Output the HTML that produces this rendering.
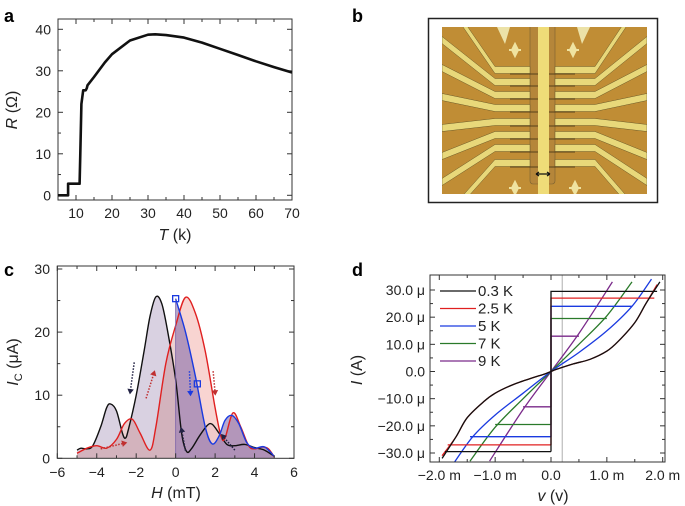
<!DOCTYPE html>
<html><head><meta charset="utf-8"><style>
html,body{margin:0;padding:0;background:#fff;}
svg{display:block;font-family:"Liberation Sans",sans-serif;}
</style></head><body>
<svg id="fig" width="685" height="506" viewBox="0 0 685 506">
<g id="pa"></g>
<g id="pb"></g>
<g id="pc"></g>
<g id="pd"></g>
</svg>
<script>
// ---- Panel a data ----
const aT = [5,7.8,7.8,11,11.2,11.5,12,12.7,13,13.2,15,18,20,25,30,32,35,40,45,50,55,60,65,70];
const aR = [0,0,2.8,2.8,10,22,25.3,25.3,25.8,26.5,28.5,32,34,37.3,38.7,38.8,38.6,38,36.8,35.3,33.8,32.3,30.9,29.6];
const aXTicks = [10,20,30,40,50,60,70];
const aYTicks = [0,10,20,30,40];
// ---- Panel c data ----
const cBlackH = [-5,-4.8,-4.5,-4.2,-3.8,-3.5,-3.3,-3.0,-2.7,-2.55,-2.4,-2.0,-1.6,-1.3,-1.0,-0.7,-0.4,0,0.3,0.55,0.8,1.2,1.6,1.85,2.2,2.6,3.0,3.5,4.0,4.5,5];
const cBlackI = [1.3,1.6,1.5,2.0,5,8,8.6,7.5,4,3.2,4.5,10,17,22.5,25.6,24.5,20,12.5,4,1.1,1.5,3.5,5.2,5.4,4,2.2,2.0,2.2,1.7,1.3,0.3];
const cRedH = [-5,-4.5,-4,-3.5,-3,-2.6,-2.2,-1.8,-1.3,-1.0,-0.5,0,0.5,1.0,1.5,2.0,2.3,2.5,2.9,3.3,3.7,4.0,4.4,4.7,5.0];
const cRedI = [0.8,1.6,2.0,1.6,3,5.5,6.2,4,1.3,5,15,21,25.5,23,17,8,3.5,3.2,7.2,5,2,1.5,1.8,1.5,0.2];
const cBlueH = [0,0.5,1.0,1.5,1.85,2.2,2.5,2.85,3.2,3.6,4.0,4.5,5.0];
const cBlueI = [25.3,20,13,5,2.3,3.5,6,6.8,5.5,2.5,1.6,1.8,0.3];
const cXTicks = [-6,-4,-2,0,2,4,6];
const cYTicks = [0,10,20,30];
// ---- Panel d data (V in mV, I in uA) ----
const dTemps = ["0.3 K","2.5 K","5 K","7 K","9 K"];
const dColors = ["#111","#e02020","#1a3ae0","#2a7a2a","#7a2a8a"];
const dIc = [29.5,27,24,19.5,13];
const dVc = [1.9,1.85,1.45,1.0,0.5];
const dCurveV = [
 [-1.95,-1.7,-1.5,-1.2,-1.0,-0.7,-0.4,-0.1,0,0.1,0.4,0.7,1.0,1.2,1.5,1.7,1.95],
 [-1.95,-1.7,-1.5,-1.2,-1.0,-0.7,-0.4,-0.1,0,0.1,0.4,0.7,1.0,1.2,1.5,1.7,1.9],
 [-1.75,-1.4,-1.0,-0.5,0,0.5,1.0,1.45,1.8],
 [-1.45,-1.0,-0.5,0,0.5,1.0,1.45],
 [-1.1,-0.5,0,0.5,1.1]];
const dCurveI = [
 [-32,-24,-17,-11,-8,-5,-2.8,-0.8,0,0.8,2.8,4.5,7.5,11,18,25,33],
 [-31,-24,-17,-11,-8,-5,-2.8,-0.8,0,0.8,2.8,4.5,7.5,11,18,25,32],
 [-34,-24,-16,-8,0,7,15,24,34],
 [-33,-20.5,-10,0,10,20.5,33],
 [-33,-14,0,14,33]];
const dXTicks = [-2,-1,0,1,2];
const dXLabels = ["\u22122.0 m","\u22121.0 m","0.0","1.0 m","2.0 m"];
const dYTicks = [30,20,10,0,-10,-20,-30];
const dYLabels = ["30.0 \u03bc","20.0 \u03bc","10.0 \u03bc","0.0","\u221210.0 \u03bc","\u221220.0 \u03bc","\u221230.0 \u03bc"];

const NS="http://www.w3.org/2000/svg";
function mk(parent,tag,attrs){const e=document.createElementNS(NS,tag);for(const k in attrs)e.setAttribute(k,attrs[k]);parent.appendChild(e);return e;}
function lin(d0,d1,r0,r1){return v=>r0+(v-d0)/(d1-d0)*(r1-r0);}
function smooth(pts){let d="M"+pts[0][0]+","+pts[0][1];for(let i=0;i<pts.length-1;i++){const p0=pts[i-1]||pts[i],p1=pts[i],p2=pts[i+1],p3=pts[i+2]||p2;const c1=[p1[0]+(p2[0]-p0[0])/6,p1[1]+(p2[1]-p0[1])/6],c2=[p2[0]-(p3[0]-p1[0])/6,p2[1]-(p3[1]-p1[1])/6];d+=" C"+c1+" "+c2+" "+p2;}return d;}
function txt(parent,x,y,s,opts){const t=mk(parent,"text",Object.assign({x:x,y:y,"font-size":14,fill:"#222"},opts||{}));t.textContent=s;return t;}

// ================= Panel a =================
(function(){
const g=document.getElementById('pa');
const X=lin(5,70,58,292), Y=lin(0,40,195.3,29.3);
const L=txt(g,4,22,"a",{"font-size":18,"font-weight":"bold",fill:"#000"});


const box=mk(g,"rect",{x:58,y:19,width:234,height:181,fill:"none",stroke:"#333","stroke-width":1});


for(let t=5;t<=70;t+=5){const x=X(t),len=(t%10===0)?5:3;mk(g,"line",{x1:x,y1:200,x2:x,y2:200-len,stroke:"#333"});mk(g,"line",{x1:x,y1:19,x2:x,y2:19+len,stroke:"#333"});}
for(let r=0;r<=40;r+=5){const y=Y(r),len=(r%10===0)?5:3;mk(g,"line",{x1:58,y1:y,x2:58+len,y2:y,stroke:"#333"});mk(g,"line",{x1:292,y1:y,x2:292-len,y2:y,stroke:"#333"});}
aXTicks.forEach(t=>{const e=txt(g,X(t),218,String(t),{"text-anchor":"middle"});});
aYTicks.forEach(t=>{const e=txt(g,51,Y(t)+5,String(t),{"text-anchor":"end"});});
const xt=txt(g,175,240,"",{"text-anchor":"middle","font-size":16});xt.innerHTML='<tspan font-style="italic">T</tspan> (k)';


const yt=txt(g,0,0,"",{"text-anchor":"middle","font-size":16,transform:"translate(17,110) rotate(-90)"});yt.innerHTML='<tspan font-style="italic">R</tspan> (\u03a9)';


let d="";aT.forEach((t,i)=>{d+=(i?"L":"M")+X(t).toFixed(1)+","+Y(aR[i]).toFixed(1);});
const p=mk(g,"path",{d:d,fill:"none",stroke:"#111","stroke-width":2.6,"stroke-linejoin":"round"});


})();

// ================= Panel b (micrograph) =================
(function(){
const g=document.getElementById('pb');
const L=txt(g,352,22,"b",{"font-size":18,"font-weight":"bold",fill:"#000"});


const fr=mk(g,"rect",{x:428.5,y:18.5,width:229,height:184,fill:"#fff",stroke:"#222","stroke-width":1.5});


const bg=mk(g,"rect",{x:442,y:27,width:205,height:167,fill:"#c08d35"});


mk(g,"clipPath",{id:"bclip"});
mk(document.getElementById('bclip'),"rect",{x:442,y:27,width:205,height:167});
const c=mk(g,"g",{"clip-path":"url(#bclip)"});
mk(c,"rect",{x:530,y:20,width:25,height:164,rx:3,fill:"#b5863a",stroke:"#7a6030","stroke-width":0.6});
const rows=[70,82,95,108,122,135,148,163];
const lEnt=[[462,22],[442,40],[442,68],[442,97],[442,128],[442,156],[442,182],[462,200]];
const rEnt=[[627,22],[647,40],[647,68],[647,97],[647,128],[647,156],[647,182],[627,200]];
rows.forEach((y,i)=>{
 const w=3.5,le=lEnt[i],re=rEnt[i];
 mk(c,"path",{d:`M${le[0]},${le[1]-w} L495,${y-w} L530,${y-w} L530,${y+w} L495,${y+w} L${le[0]},${le[1]+w}Z`,fill:"#e8d87a",stroke:"#6a5a28","stroke-width":0.5});
 mk(c,"path",{d:`M${re[0]},${re[1]-w} L595,${y-w} L555,${y-w} L555,${y+w} L595,${y+w} L${re[0]},${re[1]+w}Z`,fill:"#e8d87a",stroke:"#6a5a28","stroke-width":0.5});
 mk(c,"line",{x1:510,y1:y+4,x2:575,y2:y+4,stroke:"#3a2a10","stroke-width":0.8});
});
mk(c,"rect",{x:538,y:27,width:11,height:167,fill:"#efdc78"});
[[515,50],[573,50],[515,188],[575,188]].forEach(p=>mk(c,"path",{d:`M${p[0]},${p[1]-6} L${p[0]+3},${p[1]} L${p[0]},${p[1]+6} L${p[0]-3},${p[1]}Z M${p[0]-6},${p[1]} L${p[0]+6},${p[1]}`,fill:"#efe3a0",stroke:"#efe3a0","stroke-width":2}));
mk(c,"path",{d:"M497,27 L510,27 L505,44Z M577,27 L590,27 L582,44Z",fill:"#ece2a8"});
mk(c,"path",{d:"M536,174 L550,174 M536,174 l3,-2 M536,174 l3,2 M550,174 l-3,-2 M550,174 l-3,2",stroke:"#111","stroke-width":1.2,fill:"none"});
})();

// ================= Panel c =================
(function(){
const g=document.getElementById('pc');
const X=lin(-6,6,57.3,294), Y=lin(0,30,458.3,269);
const L=txt(g,4,276,"c",{"font-size":18,"font-weight":"bold",fill:"#000"});


function pts(H,I){return H.map((h,i)=>[+X(h).toFixed(1),+Y(I[i]).toFixed(1)]);}
const y0=Y(0);
const bp=pts(cBlackH,cBlackI), rp=pts(cRedH,cRedI), blp=pts(cBlueH,cBlueI);
const bf=mk(g,"path",{d:smooth(bp)+` L${X(5)},${y0} L${X(-5)},${y0}Z`,fill:"#cfc6da","fill-opacity":0.8});


mk(g,"clipPath",{id:"cleft"});mk(document.getElementById('cleft'),"rect",{x:0,y:0,width:X(0),height:506});
mk(g,"clipPath",{id:"cright"});mk(document.getElementById('cright'),"rect",{x:X(0),y:0,width:300,height:506});
const rf=mk(g,"path",{d:smooth(rp)+` L${X(5)},${y0} L${X(-5)},${y0}Z`,fill:"#c97a7a","fill-opacity":0.35,"clip-path":"url(#cleft)"});


const rf2=mk(g,"path",{d:smooth(rp)+` L${X(5)},${y0} L${X(-5)},${y0}Z`,fill:"#f6c6c2","fill-opacity":0.75,"clip-path":"url(#cright)"});


const blf=mk(g,"path",{d:smooth(blp)+` L${X(5)},${y0} L${X(0)},${y0}Z`,fill:"#7a62a8","fill-opacity":0.55});


[[bp,"#111","black-sweep"],[rp,"#e02020","red-sweep"],[blp,"#1a3ae0","blue-sweep"]].forEach(a=>{
 const p=mk(g,"path",{d:smooth(a[0]),fill:"none",stroke:a[1],"stroke-width":1.4});
 
 
});
mk(g,"line",{x1:X(0),y1:Y(25.3),x2:X(0),y2:y0,stroke:"#7a62a8","stroke-width":0.8});
[[0,25.3],[1.1,11.8]].forEach(m=>{const r=mk(g,"rect",{x:X(m[0])-3,y:Y(m[1])-3,width:6,height:6,fill:"none",stroke:"#1a3ae0","stroke-width":1.3});});
function arr(h1,i1,h2,i2,col){const x1=X(h1),y1=Y(i1),x2=X(h2),y2=Y(i2);mk(g,"line",{x1:x1,y1:y1,x2:x2,y2:y2,stroke:col,"stroke-width":1.5,"stroke-dasharray":"1.5,1.5"});const a=Math.atan2(y2-y1,x2-x1);mk(g,"path",{d:`M${x2+3*Math.cos(a)},${y2+3*Math.sin(a)} L${x2+4*Math.cos(a+2.2)},${y2+4*Math.sin(a+2.2)} L${x2+4*Math.cos(a-2.2)},${y2+4*Math.sin(a-2.2)}Z`,fill:col});}
arr(-2.1,15.2,-2.3,10.6,"#224");arr(-1.5,9.5,-1.1,13.5,"#c03030");arr(0.7,13.8,0.75,10.3,"#1a3ae0");arr(1.9,13.8,2.0,10.4,"#c03030");
arr(0.5,1.2,0.3,4.5,"#224");arr(3.0,1.3,2.4,3.5,"#224");arr(-3.8,1.5,-2.6,2.4,"#c03030");
const box=mk(g,"rect",{x:57.3,y:266,width:236.7,height:192.3,fill:"none",stroke:"#333"});


for(let h=-6;h<=6;h+=1){const x=X(h),len=(h%2===0)?5:3;mk(g,"line",{x1:x,y1:458.3,x2:x,y2:458.3-len,stroke:"#333"});mk(g,"line",{x1:x,y1:266,x2:x,y2:266+len,stroke:"#333"});}
for(let v=0;v<=30;v+=5){const y=Y(v),len=(v%10===0)?5:3;mk(g,"line",{x1:57.3,y1:y,x2:57.3+len,y2:y,stroke:"#333"});mk(g,"line",{x1:294,y1:y,x2:294-len,y2:y,stroke:"#333"});}
cXTicks.forEach(t=>{const e=txt(g,X(t),477,(t<0?"\u2212":"")+Math.abs(t),{"text-anchor":"middle"});});
cYTicks.forEach(t=>{const e=txt(g,50,Y(t)+5,String(t),{"text-anchor":"end"});});
const xt=txt(g,176,498,"",{"text-anchor":"middle","font-size":16});xt.innerHTML='<tspan font-style="italic">H</tspan> (mT)';


const yt=txt(g,0,0,"",{"text-anchor":"middle","font-size":16,transform:"translate(18,362) rotate(-90)"});yt.innerHTML='<tspan font-style="italic">I</tspan><tspan font-size="11" dy="4">C</tspan><tspan dy="-4"> (\u03bcA)</tspan>';


})();

// ================= Panel d =================
(function(){
const g=document.getElementById('pd');
const X=lin(-2,2,439.3,662.7), Y=lin(-30,30,453,290);
const L=txt(g,352,276,"d",{"font-size":18,"font-weight":"bold",fill:"#000"});


mk(g,"clipPath",{id:"dclip"});mk(document.getElementById('dclip'),"rect",{x:430,y:275,width:235,height:187});
const c=mk(g,"g",{"clip-path":"url(#dclip)"});
mk(c,"line",{x1:X(0.2),y1:275,x2:X(0.2),y2:462,stroke:"#999","stroke-width":0.8});
function pts(V,I){return V.map((v,i)=>[+X(v).toFixed(1),+Y(I[i]).toFixed(1)]);}
for(let k=dTemps.length-1;k>=0;k--){
 const col=dColors[k];
 const sw=mk(c,"path",{d:`M${X(0)},${Y(-dIc[k])} L${X(0)},${Y(dIc[k])} L${X(dVc[k])},${Y(dIc[k])} M${X(0)},${Y(-dIc[k])} L${X(-dVc[k])},${Y(-dIc[k])}`,fill:"none",stroke:col,"stroke-width":1.3});
 
 
 const p=pts(dCurveV[k],dCurveI[k]);
 const cv=mk(c,"path",{d:smooth(p),fill:"none",stroke:col,"stroke-width":1.3});
 
 
}
const box=mk(g,"rect",{x:430,y:275,width:235,height:187,fill:"none",stroke:"#333"});


for(let v=-2;v<=2.001;v+=0.5){const x=X(v),len=(Math.abs(v%1)<0.01)?5:3;mk(g,"line",{x1:x,y1:462,x2:x,y2:462-len,stroke:"#333"});mk(g,"line",{x1:x,y1:275,x2:x,y2:275+len,stroke:"#333"});}
for(let v=-30;v<=30;v+=5){const y=Y(v),len=(v%10===0)?5:3;mk(g,"line",{x1:430,y1:y,x2:430+len,y2:y,stroke:"#333"});mk(g,"line",{x1:665,y1:y,x2:665-len,y2:y,stroke:"#333"});}
dXTicks.forEach((t,i)=>{const e=txt(g,X(t),480,dXLabels[i],{"text-anchor":"middle"});});
dYTicks.forEach((t,i)=>{const e=txt(g,425,Y(t)+5,dYLabels[i],{"text-anchor":"end"});});
const xt=txt(g,553,501,"",{"text-anchor":"middle","font-size":16});xt.innerHTML='<tspan font-style="italic">v</tspan> (v)';


const yt=txt(g,0,0,"",{"text-anchor":"middle","font-size":16,transform:"translate(362,370) rotate(-90)"});yt.innerHTML='<tspan font-style="italic">I</tspan> (A)';


dTemps.forEach((t,i)=>{
 const y=291+i*17.5;
 const lg=mk(g,"g",{});
 
 
 mk(lg,"line",{x1:440,y1:y,x2:476,y2:y,stroke:dColors[i],"stroke-width":1.3});
 txt(lg,478,y+5,t,{"font-size":15});
});
})();
</script>
</body></html>
